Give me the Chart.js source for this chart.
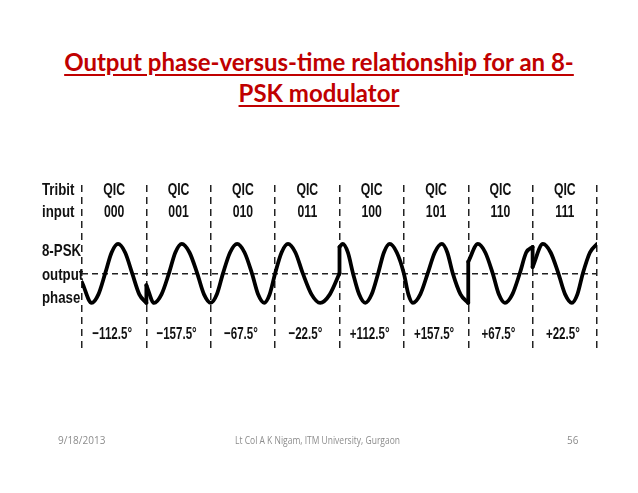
<!DOCTYPE html>
<html>
<head>
<meta charset="utf-8">
<script src="https://cdn.jsdelivr.net/npm/chart.js@4.4.0/dist/chart.umd.min.js"></script>
<style>
    html, body { margin: 0; padding: 0; background: #fff; }
    body { width: 638px; height: 493px; position: relative; overflow: hidden; }
    #titulo {
        position: absolute; left: 0; top: 46px; width: 638px;
        text-align: center; color: #c00000;
        font-family: Lato, 'Open Sans', sans-serif; font-weight: bold; font-size: 24px;
        line-height: 31px; text-decoration: underline; text-underline-offset: 3px;
    }
    #contenedor { position: absolute; left: 0; top: 0; width: 638px; height: 493px; }
    .pie {
        position: absolute; top: 433px; color: #8c8c8c;
        font-family: 'Liberation Sans Narrow', 'Open Sans', sans-serif; font-size: 10px;
        transform-origin: left center;
    }
</style>
</head>
<body>
<div id="titulo">Output phase-versus-time relationship for an 8-<br>PSK modulator</div>
<div id="contenedor"><canvas id="graficoPSK"></canvas></div>
<div class="pie" style="left:58px;">9/18/2013</div>
<div class="pie" style="left:235px; transform: scaleX(0.85);">Lt Col A K Nigam, ITM University, Gurgaon</div>
<div class="pie" style="left:567px;">56</div>

<script>
// Entradas tribit y fase de salida de cada símbolo
const tribits = ['000', '001', '010', '011', '100', '101', '110', '111'];
const fases = ['\u2212112.5\u00b0', '\u2212157.5\u00b0', '\u221267.5\u00b0', '\u221222.5\u00b0',
               '+112.5\u00b0', '+157.5\u00b0', '+67.5\u00b0', '+22.5\u00b0'];

// Un tiempo repetido marca el salto de fase al cambiar de símbolo
const tiempo = [
    0.00, 0.15, 0.255, 0.36, 0.46, 0.56, 0.67, 0.78, 0.89, 1.00,
    1.00, 1.12, 1.235, 1.35, 1.45, 1.55, 1.67, 1.79, 1.895, 2.00,
    2.095, 2.19, 2.30, 2.41, 2.525, 2.64, 2.735, 2.83, 2.915, 3.00,
    3.10, 3.20, 3.315, 3.43, 3.565, 3.70, 3.85, 4.00,
    4.00, 4.05, 4.13, 4.21, 4.305, 4.40, 4.50, 4.60, 4.69, 4.78, 4.89, 5.00,
    5.07, 5.14, 5.255, 5.37, 5.48, 5.59, 5.675, 5.76, 5.88, 6.00,
    6.00, 6.15, 6.265, 6.38, 6.475, 6.57, 6.685, 6.80, 6.90, 7.00,
    7.00, 7.16, 7.28, 7.40, 7.505, 7.61, 7.695, 7.78, 7.89, 8.00
];
const amplitud = [
    -0.30, -1.00, -0.71, 0.00, 0.71, 1.00, 0.71, 0.00, -0.71, -1.00,
    -0.40, -1.00, -0.71, 0.00, 0.71, 1.00, 0.71, 0.00, -0.71, -1.00,
    -0.71, 0.00, 0.71, 1.00, 0.71, 0.00, -0.71, -1.00, -0.71, 0.00,
    0.71, 1.00, 0.71, 0.00, -0.71, -1.00, -0.71, 0.00,
    0.90, 1.00, 0.71, 0.00, -0.71, -1.00, -0.71, 0.00, 0.71, 1.00, 0.71, 0.00,
    -0.71, -1.00, -0.71, 0.00, 0.71, 1.00, 0.71, 0.00, -0.71, -1.00,
    0.40, 1.00, 0.71, 0.00, -0.71, -1.00, -0.71, 0.00, 0.71, 0.90,
    0.22, 1.00, 0.71, 0.00, -0.71, -1.00, -0.71, 0.00, 0.71, 1.00
];

// Separar en tramos continuos y saltos verticales
const tramos = [];
const saltos = [];
let actual = [];
tiempo.forEach((t, i) => {
    const p = { x: t, y: amplitud[i] };
    if (i > 0 && t === tiempo[i - 1]) {
        tramos.push(actual);
        saltos.push([actual[actual.length - 1], p]);
        actual = [];
    }
    actual.push(p);
});
tramos.push(actual);

function textoAngosto(ctx, texto, x, y, align, escala) {
    ctx.save();
    ctx.translate(x, y);
    ctx.scale(escala, 1);
    ctx.textAlign = align;
    ctx.fillText(texto, 0, 0);
    ctx.restore();
}

const etiquetasPlugin = {
    id: 'etiquetas',
    afterDraw(chart) {
        const { ctx, chartArea, scales: { x } } = chart;
        ctx.save();
        ctx.fillStyle = '#111';
        ctx.textBaseline = 'middle';
        ctx.font = "bold 17px 'Liberation Sans Narrow', 'Arial Narrow', sans-serif";

        const izq = chartArea.left - 40;
        textoAngosto(ctx, 'Tribit', izq, chartArea.top + 5, 'left', 0.78);
        textoAngosto(ctx, 'input', izq, chartArea.top + 27, 'left', 0.78);
        textoAngosto(ctx, '8-PSK', izq, chartArea.top + 66, 'left', 0.78);
        textoAngosto(ctx, 'output', izq, chartArea.top + 90, 'left', 0.78);
        textoAngosto(ctx, 'phase', izq, chartArea.top + 113, 'left', 0.78);

        tribits.forEach((t, i) => {
            const cx = x.getPixelForValue(i + 0.5);
            textoAngosto(ctx, 'QIC', cx, chartArea.top + 5, 'center', 0.72);
            textoAngosto(ctx, t, cx, chartArea.top + 27, 'center', 0.72);
            textoAngosto(ctx, fases[i], cx - 2, chartArea.bottom - 19, 'center', 0.68);
        });
        ctx.restore();
    }
};

const estiloOnda = {
    borderColor: '#000',
    borderWidth: 3.8,
    borderCapStyle: 'round',
    borderJoinStyle: 'round',
    pointRadius: 0,
    fill: false
};

const datasets = [
    ...tramos.map(d => ({ ...estiloOnda, data: d, cubicInterpolationMode: 'monotone' })),
    ...saltos.map(d => ({ ...estiloOnda, data: d, tension: 0 }))
];

new Chart(document.getElementById('graficoPSK'), {
    type: 'line',
    data: { datasets: datasets },
    options: {
        responsive: true,
        maintainAspectRatio: false,
        animation: false,
        layout: { padding: { left: 82, right: 41, top: 185, bottom: 140 } },
        plugins: {
            legend: { display: false },
            tooltip: { enabled: false }
        },
        scales: {
            x: {
                type: 'linear',
                min: 0,
                max: 8,
                ticks: { display: false, stepSize: 1 },
                grid: { color: '#222', lineWidth: 1.5, drawTicks: false },
                border: { display: false, dash: [7, 5] }
            },
            y: {
                min: -2.7,
                max: 3.0,
                ticks: { display: false, stepSize: 1 },
                grid: {
                    color: (c) => (c.tick && c.tick.value === 0 ? '#222' : 'rgba(0,0,0,0)'),
                    lineWidth: 1.6,
                    drawTicks: false
                },
                border: { display: false, dash: [6, 4] }
            }
        }
    },
    plugins: [etiquetasPlugin]
});
</script>
</body>
</html>
